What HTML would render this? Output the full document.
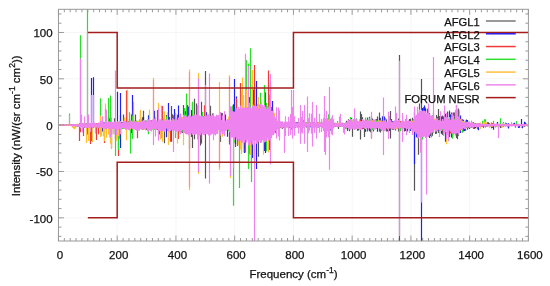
<!DOCTYPE html>
<html><head><meta charset="utf-8"><style>
html,body{margin:0;padding:0;background:#fff;}
svg{display:block;}
.t,.t text{font-family:"Liberation Sans",sans-serif;font-size:11.5px;fill:#111;stroke:#111;stroke-width:0.25px;}
</style></head><body>
<svg width="550" height="286" viewBox="0 0 550 286">
<rect width="550" height="286" fill="#fff"/>
<path d="M117.19 9.30V241.00M175.94 9.30V241.00M234.68 9.30V241.00M293.43 9.30V241.00M352.17 9.30V241.00M410.91 9.30V241.00M469.66 9.30V241.00M58.45 217.83H528.40M58.45 171.49H528.40M58.45 125.15H528.40M58.45 78.81H528.40M58.45 32.47H528.40" stroke="#f6f6f6" stroke-width="1" fill="none"/><path d="M58.45 241.00v-5.5M58.45 9.30v5.5M64.32 241.00v-3M64.32 9.30v3M70.20 241.00v-3M70.20 9.30v3M76.07 241.00v-3M76.07 9.30v3M81.95 241.00v-3M81.95 9.30v3M87.82 241.00v-3M87.82 9.30v3M93.70 241.00v-3M93.70 9.30v3M99.57 241.00v-3M99.57 9.30v3M105.44 241.00v-3M105.44 9.30v3M111.32 241.00v-3M111.32 9.30v3M117.19 241.00v-5.5M117.19 9.30v5.5M123.07 241.00v-3M123.07 9.30v3M128.94 241.00v-3M128.94 9.30v3M134.82 241.00v-3M134.82 9.30v3M140.69 241.00v-3M140.69 9.30v3M146.57 241.00v-3M146.57 9.30v3M152.44 241.00v-3M152.44 9.30v3M158.31 241.00v-3M158.31 9.30v3M164.19 241.00v-3M164.19 9.30v3M170.06 241.00v-3M170.06 9.30v3M175.94 241.00v-5.5M175.94 9.30v5.5M181.81 241.00v-3M181.81 9.30v3M187.69 241.00v-3M187.69 9.30v3M193.56 241.00v-3M193.56 9.30v3M199.44 241.00v-3M199.44 9.30v3M205.31 241.00v-3M205.31 9.30v3M211.18 241.00v-3M211.18 9.30v3M217.06 241.00v-3M217.06 9.30v3M222.93 241.00v-3M222.93 9.30v3M228.81 241.00v-3M228.81 9.30v3M234.68 241.00v-5.5M234.68 9.30v5.5M240.56 241.00v-3M240.56 9.30v3M246.43 241.00v-3M246.43 9.30v3M252.30 241.00v-3M252.30 9.30v3M258.18 241.00v-3M258.18 9.30v3M264.05 241.00v-3M264.05 9.30v3M269.93 241.00v-3M269.93 9.30v3M275.80 241.00v-3M275.80 9.30v3M281.68 241.00v-3M281.68 9.30v3M287.55 241.00v-3M287.55 9.30v3M293.43 241.00v-5.5M293.43 9.30v5.5M299.30 241.00v-3M299.30 9.30v3M305.17 241.00v-3M305.17 9.30v3M311.05 241.00v-3M311.05 9.30v3M316.92 241.00v-3M316.92 9.30v3M322.80 241.00v-3M322.80 9.30v3M328.67 241.00v-3M328.67 9.30v3M334.55 241.00v-3M334.55 9.30v3M340.42 241.00v-3M340.42 9.30v3M346.29 241.00v-3M346.29 9.30v3M352.17 241.00v-5.5M352.17 9.30v5.5M358.04 241.00v-3M358.04 9.30v3M363.92 241.00v-3M363.92 9.30v3M369.79 241.00v-3M369.79 9.30v3M375.67 241.00v-3M375.67 9.30v3M381.54 241.00v-3M381.54 9.30v3M387.41 241.00v-3M387.41 9.30v3M393.29 241.00v-3M393.29 9.30v3M399.16 241.00v-3M399.16 9.30v3M405.04 241.00v-3M405.04 9.30v3M410.91 241.00v-5.5M410.91 9.30v5.5M416.79 241.00v-3M416.79 9.30v3M422.66 241.00v-3M422.66 9.30v3M428.54 241.00v-3M428.54 9.30v3M434.41 241.00v-3M434.41 9.30v3M440.28 241.00v-3M440.28 9.30v3M446.16 241.00v-3M446.16 9.30v3M452.03 241.00v-3M452.03 9.30v3M457.91 241.00v-3M457.91 9.30v3M463.78 241.00v-3M463.78 9.30v3M469.66 241.00v-5.5M469.66 9.30v5.5M475.53 241.00v-3M475.53 9.30v3M481.40 241.00v-3M481.40 9.30v3M487.28 241.00v-3M487.28 9.30v3M493.15 241.00v-3M493.15 9.30v3M499.03 241.00v-3M499.03 9.30v3M504.90 241.00v-3M504.90 9.30v3M510.78 241.00v-3M510.78 9.30v3M516.65 241.00v-3M516.65 9.30v3M522.53 241.00v-3M522.53 9.30v3M528.40 241.00v-5.5M528.40 9.30v5.5M58.45 236.37h3M528.40 236.37h-3M58.45 227.10h3M528.40 227.10h-3M58.45 217.83h5.5M528.40 217.83h-5.5M58.45 208.56h3M528.40 208.56h-3M58.45 199.29h3M528.40 199.29h-3M58.45 190.03h3M528.40 190.03h-3M58.45 180.76h3M528.40 180.76h-3M58.45 171.49h5.5M528.40 171.49h-5.5M58.45 162.22h3M528.40 162.22h-3M58.45 152.95h3M528.40 152.95h-3M58.45 143.69h3M528.40 143.69h-3M58.45 134.42h3M528.40 134.42h-3M58.45 125.15h5.5M528.40 125.15h-5.5M58.45 115.88h3M528.40 115.88h-3M58.45 106.61h3M528.40 106.61h-3M58.45 97.35h3M528.40 97.35h-3M58.45 88.08h3M528.40 88.08h-3M58.45 78.81h5.5M528.40 78.81h-5.5M58.45 69.54h3M528.40 69.54h-3M58.45 60.27h3M528.40 60.27h-3M58.45 51.01h3M528.40 51.01h-3M58.45 41.74h3M528.40 41.74h-3M58.45 32.47h5.5M528.40 32.47h-5.5M58.45 23.20h3M528.40 23.20h-3M58.45 13.93h3M528.40 13.93h-3" stroke="#999" stroke-width="1" fill="none"/><path d="M59.5 124.8V125.5M60.5 125.0V125.6M61.5 124.9V125.4M62.5 124.6V125.7M63.5 124.6V125.7M64.5 125.0V125.4M65.5 124.9V125.7M66.5 124.8V125.6M67.5 124.9V125.7M68.5 124.3V125.9M69.5 124.9V126.1M70.5 124.5V126.0M71.5 124.5V125.5M72.5 124.3V126.2M73.5 124.3V126.0M74.5 124.4V125.8M75.5 124.5V126.3M76.5 124.6V125.5M77.5 124.7V126.0M78.5 124.2V126.6M79.5 123.6V126.3M80.5 124.1V125.8M81.5 123.7V126.1M82.5 123.8V127.2M83.5 124.1V126.9M84.5 124.4V127.5M85.5 123.9V127.2M86.5 123.9V127.2M87.5 123.7V126.8M88.5 123.8V126.1M89.5 123.6V125.9M90.5 123.9V126.4M91.5 124.1V127.0M92.5 123.8V126.1M93.5 123.2V126.4M94.5 123.3V126.6M95.5 123.8V127.2M96.5 124.3V126.1M97.5 123.8V126.6M98.5 123.8V125.8M99.5 124.2V127.5M100.5 123.4V125.9M101.5 123.4V127.0M102.5 119.6V126.7M103.5 122.5V132.5M104.5 123.2V126.0M105.5 123.8V125.9M106.5 124.3V128.3M107.5 123.0V126.3M108.5 123.0V127.2M109.5 118.2V131.7M110.5 124.2V131.8M111.5 123.3V127.5M112.5 123.2V126.8M113.5 124.1V134.0M114.5 118.3V127.0M115.5 121.7V128.9M116.5 123.3V127.2M117.5 121.8V126.9M118.5 124.0V126.3M119.5 122.7V128.5M120.5 115.1V128.2M121.5 123.0V126.6M122.5 123.9V128.1M123.5 114.5V128.4M124.5 117.7V128.9M125.5 122.6V127.8M126.5 123.7V126.6M127.5 124.2V128.8M128.5 121.4V127.1M129.5 119.0V127.2M130.5 121.4V128.3M131.5 114.6V127.1M132.5 112.9V128.1M133.5 121.3V128.2M134.5 121.5V129.0M135.5 114.4V127.4M136.5 120.9V128.2M137.5 121.8V126.9M138.5 123.6V129.5M139.5 123.0V129.5M140.5 121.6V127.4M141.5 121.9V126.9M142.5 117.2V127.8M143.5 110.7V129.7M144.5 121.2V127.4M145.5 122.8V127.8M146.5 121.8V129.8M147.5 120.5V129.5M148.5 122.1V127.1M149.5 123.2V128.8M150.5 121.2V130.0M151.5 122.5V129.0M152.5 122.2V128.5M153.5 122.8V128.6M154.5 121.7V129.0M155.5 120.8V127.1M156.5 121.9V126.5M157.5 110.1V129.7M158.5 121.3V128.6M159.5 123.6V134.5M160.5 123.7V127.4M161.5 122.9V132.4M162.5 121.1V126.7M163.5 122.9V127.9M164.5 120.1V143.2M165.5 120.7V127.6M166.5 115.1V130.3M167.5 122.5V128.3M168.5 122.0V128.2M169.5 116.9V127.8M170.5 121.9V128.3M171.5 106.1V141.8M172.5 114.2V128.3M173.5 122.6V129.6M174.5 121.9V128.4M175.5 113.7V127.3M176.5 121.0V129.7M177.5 114.8V134.4M178.5 121.8V127.7M179.5 122.5V131.5M180.5 121.4V131.1M181.5 119.3V128.3M182.5 117.4V132.9M183.5 105.0V130.1M184.5 118.4V130.6M185.5 119.2V128.1M186.5 122.5V128.3M187.5 105.1V131.2M188.5 122.2V127.6M189.5 117.6V149.0M190.5 116.8V127.3M191.5 116.9V136.9M192.5 103.0V148.0M193.5 122.3V133.6M194.5 98.8V139.2M195.5 119.6V130.8M196.5 103.4V127.4M197.5 118.0V133.6M198.5 117.6V138.5M199.5 121.1V131.3M200.5 117.6V145.5M201.5 101.7V143.5M202.5 120.7V129.2M203.5 116.6V131.1M204.5 120.2V132.5M205.5 71.0V178.6M206.5 120.0V133.4M207.5 117.4V132.7M208.5 116.9V133.3M209.5 116.3V129.7M210.5 105.7V129.6M211.5 118.1V132.2M212.5 113.4V132.3M213.5 120.2V127.5M214.5 120.3V131.1M215.5 122.9V127.9M216.5 120.8V130.3M217.5 120.5V129.9M218.5 121.7V127.7M219.5 120.0V132.2M220.5 123.3V142.1M221.5 113.0V127.8M222.5 113.2V126.5M223.5 120.8V128.2M224.5 121.2V134.5M225.5 123.3V130.1M226.5 123.4V129.6M227.5 120.1V128.1M228.5 123.5V130.2M229.5 119.6V144.4M230.5 108.6V127.6M231.5 117.4V129.8M232.5 119.7V129.6M233.5 116.0V132.5M234.5 119.5V132.1M235.5 114.5V147.1M236.5 121.2V134.0M237.5 115.4V130.5M238.5 117.2V136.0M239.5 113.6V135.2M240.5 110.8V136.1M241.5 117.0V147.7M242.5 118.9V130.3M243.5 118.8V131.3M244.5 115.7V140.0M245.5 116.1V132.0M246.5 118.3V139.0M247.5 109.2V137.3M248.5 116.9V131.0M249.5 116.8V137.9M250.5 109.4V134.4M251.5 118.1V129.1M252.5 112.6V133.2M253.5 108.7V131.6M254.5 113.2V160.0M255.5 121.0V134.6M256.5 115.2V129.7M257.5 114.6V134.3M258.5 112.1V156.8M259.5 116.6V137.8M260.5 118.7V136.6M261.5 113.7V139.4M262.5 112.2V134.4M263.5 109.1V135.4M264.5 111.9V131.2M265.5 92.3V132.8M266.5 110.3V131.0M267.5 112.6V131.6M268.5 120.6V131.0M269.5 121.0V149.9M270.5 116.2V133.5M271.5 119.3V134.4M272.5 117.9V131.1M273.5 116.4V133.5M274.5 122.8V129.3M275.5 118.5V132.8M276.5 119.3V126.8M277.5 121.2V127.8M278.5 123.4V127.6M279.5 123.4V127.3M280.5 123.7V126.9M281.5 123.2V126.5M282.5 123.5V129.0M283.5 123.8V126.6M284.5 123.5V127.9M285.5 123.6V126.8M286.5 123.7V126.0M287.5 123.4V126.6M288.5 122.4V127.0M289.5 122.2V127.8M290.5 122.0V125.9M291.5 123.0V126.9M292.5 120.8V126.2M293.5 122.5V127.1M294.5 123.6V126.2M295.5 122.7V126.1M296.5 122.4V127.0M297.5 124.3V125.8M298.5 123.1V126.1M299.5 122.6V127.0M300.5 122.4V126.8M301.5 123.2V126.4M302.5 122.4V126.8M303.5 123.8V126.2M304.5 122.7V127.3M305.5 124.1V126.4M306.5 122.4V127.5M307.5 124.4V126.3M308.5 120.4V126.3M309.5 124.1V125.8M310.5 122.5V127.0M311.5 123.2V125.9M312.5 122.8V127.5M313.5 124.3V125.9M314.5 123.3V128.4M315.5 123.0V127.1M316.5 122.3V127.1M317.5 124.2V125.8M318.5 123.9V126.9M319.5 124.1V126.7M320.5 122.8V127.0M321.5 122.1V126.8M322.5 123.2V126.8M323.5 123.0V127.1M324.5 114.2V129.5M325.5 120.2V130.2M326.5 123.4V128.5M327.5 123.0V127.0M328.5 120.1V127.3M329.5 123.3V127.3M330.5 123.5V129.0M331.5 121.1V127.7M332.5 123.1V129.5M333.5 121.8V127.0M334.5 123.7V126.8M335.5 122.7V127.0M336.5 124.5V126.9M337.5 123.9V126.4M338.5 123.0V128.9M339.5 124.0V126.3M340.5 123.7V126.5M341.5 124.0V126.1M342.5 123.0V126.6M343.5 123.5V126.6M344.5 123.8V127.2M345.5 122.9V127.3M346.5 120.7V126.1M347.5 122.8V131.0M348.5 119.3V127.0M349.5 122.9V131.3M350.5 122.7V128.1M351.5 121.7V126.3M352.5 121.3V136.7M353.5 121.3V127.8M354.5 123.9V128.8M355.5 121.3V128.0M356.5 122.5V126.1M357.5 123.9V130.8M358.5 122.3V130.6M359.5 121.9V126.9M360.5 111.5V139.5M361.5 114.1V126.9M362.5 117.2V129.2M363.5 121.2V127.8M364.5 121.9V136.9M365.5 119.0V131.9M366.5 123.3V126.3M367.5 117.6V131.5M368.5 121.3V128.7M369.5 116.7V127.0M370.5 121.9V132.2M371.5 116.2V138.4M372.5 118.6V129.0M373.5 123.6V131.4M374.5 123.4V127.1M375.5 120.8V126.8M376.5 118.9V129.0M377.5 116.5V127.4M378.5 122.2V126.3M379.5 112.6V131.5M380.5 117.8V132.5M381.5 122.9V131.0M382.5 122.5V129.7M383.5 123.3V132.1M384.5 122.6V127.7M385.5 119.1V128.1M386.5 119.5V131.4M387.5 122.3V131.5M388.5 119.4V128.9M389.5 117.7V130.7M390.5 111.1V138.5M391.5 119.0V127.5M392.5 124.1V129.8M393.5 122.6V129.8M394.5 122.6V126.9M395.5 123.4V128.9M396.5 122.7V127.2M397.5 121.5V126.9M398.5 118.5V131.5M399.5 55.0V241.0M400.5 122.2V130.9M401.5 123.9V127.6M402.5 119.7V128.5M403.5 122.7V128.4M404.5 122.4V131.6M405.5 119.5V127.3M406.5 118.2V131.4M407.5 122.0V131.4M408.5 123.5V126.2M409.5 119.0V130.7M410.5 118.8V127.3M411.5 121.7V128.4M412.5 117.8V126.2M413.5 123.3V127.7M414.5 111.7V190.7M415.5 116.6V128.1M416.5 117.5V133.2M417.5 117.6V133.2M418.5 115.4V154.8M419.5 103.4V134.7M420.5 117.8V131.3M421.5 79.0V133.9M422.5 112.0V128.7M423.5 107.3V128.9M424.5 107.1V132.3M425.5 107.8V135.8M426.5 121.8V130.1M427.5 108.7V135.1M428.5 107.7V132.2M429.5 113.0V137.6M430.5 116.6V136.0M431.5 117.7V137.3M432.5 121.5V135.7M433.5 112.4V130.8M434.5 120.0V129.9M435.5 119.3V134.1M436.5 115.1V133.7M437.5 116.7V130.6M438.5 109.0V133.0M439.5 116.0V129.6M440.5 116.3V129.9M441.5 121.4V133.1M442.5 115.5V135.0M443.5 116.6V135.4M444.5 121.9V126.8M445.5 121.5V130.9M446.5 118.6V131.1M447.5 111.5V133.1M448.5 122.8V137.7M449.5 110.5V136.9M450.5 114.7V128.6M451.5 112.6V128.7M452.5 119.8V138.3M453.5 112.4V129.6M454.5 112.4V132.4M455.5 115.4V130.4M456.5 105.0V137.9M457.5 120.8V139.2M458.5 108.6V135.8M459.5 122.3V129.5M460.5 122.3V128.1M461.5 123.2V127.5M462.5 122.2V132.6M463.5 121.2V131.4M464.5 124.0V131.0M465.5 123.3V130.8M466.5 119.6V126.0M467.5 121.2V129.7M468.5 124.0V126.3M469.5 123.6V129.0M470.5 122.9V126.0M471.5 124.6V126.4M472.5 122.8V127.0M473.5 122.9V127.1M474.5 123.0V128.9M475.5 124.1V125.7M476.5 124.0V126.6M477.5 123.8V129.3M478.5 124.2V126.8M479.5 124.2V126.2M480.5 124.3V126.2M481.5 124.6V126.7M482.5 123.9V126.3M483.5 124.4V126.4M484.5 124.1V126.0M485.5 123.8V126.3M486.5 124.7V125.8M487.5 124.3V126.4M488.5 122.2V125.8M489.5 124.7V125.6M490.5 124.7V125.6M491.5 123.9V128.3M492.5 124.0V128.1M493.5 123.9V126.3M494.5 124.6V126.1M495.5 124.3V126.2M496.5 124.0V126.2M497.5 122.0V126.0M498.5 124.1V126.4M499.5 124.0V125.5M500.5 124.8V128.1M501.5 124.6V126.4M502.5 124.2V126.1M503.5 124.4V126.4M504.5 124.3V125.6M505.5 124.6V126.0M506.5 124.3V125.7M507.5 124.5V125.8M508.5 124.3V125.9M509.5 124.0V126.2M510.5 124.1V125.9M511.5 124.6V125.9M512.5 124.1V125.5M513.5 123.3V126.1M514.5 124.0V125.7M515.5 124.5V125.9M516.5 124.9V125.6M517.5 124.7V125.9M518.5 124.7V126.1M519.5 124.8V125.8M520.5 124.2V126.0M521.5 124.5V125.7M522.5 124.5V126.9M523.5 124.6V126.2M524.5 123.6V126.7M525.5 124.6V125.6M526.5 124.5V125.8M527.5 124.7V126.2" stroke="#555555" stroke-width="1.2" fill="none"/>
<path d="M59.5 124.7V125.5M60.5 124.7V125.3M61.5 125.0V125.5M62.5 124.7V125.6M63.5 125.0V125.4M64.5 124.6V125.6M65.5 124.9V125.6M66.5 124.5V125.7M67.5 124.8V125.8M68.5 124.8V125.5M69.5 124.8V125.9M70.5 124.5V125.6M71.5 124.6V126.1M72.5 124.9V125.9M73.5 124.2V126.2M74.5 124.4V126.0M75.5 124.8V126.2M76.5 124.6V126.2M77.5 124.1V126.5M78.5 124.6V125.7M79.5 124.7V125.7M80.5 123.5V126.2M81.5 124.0V126.1M82.5 124.1V127.3M83.5 123.4V127.3M84.5 123.2V127.7M85.5 124.0V125.8M86.5 123.4V127.1M87.5 123.4V126.8M88.5 123.9V126.7M89.5 123.8V126.6M90.5 124.4V127.0M91.5 78.0V127.2M92.5 124.3V127.0M93.5 77.3V127.5M94.5 123.4V126.0M95.5 123.8V127.1M96.5 123.3V127.7M97.5 123.6V125.8M98.5 123.1V127.3M99.5 123.4V127.3M100.5 124.0V126.7M101.5 121.2V126.6M102.5 124.5V131.6M103.5 122.9V126.0M104.5 122.5V133.2M105.5 123.9V126.0M106.5 123.5V127.2M107.5 122.9V127.2M108.5 115.8V127.5M109.5 122.6V131.4M110.5 123.6V127.3M111.5 123.8V127.1M112.5 122.2V127.2M113.5 124.1V133.6M114.5 122.3V128.2M115.5 121.8V138.8M116.5 123.2V127.3M117.5 91.7V127.7M118.5 122.1V128.8M119.5 123.1V127.1M120.5 93.0V148.0M121.5 122.0V129.2M122.5 121.9V126.7M123.5 122.4V126.8M124.5 121.4V127.2M125.5 123.3V129.3M126.5 123.2V127.0M127.5 121.5V128.8M128.5 121.6V127.5M129.5 123.9V127.1M130.5 124.1V127.4M131.5 122.9V133.3M132.5 95.0V127.3M133.5 123.8V127.0M134.5 122.8V127.3M135.5 122.9V128.5M136.5 122.8V128.0M137.5 123.8V127.1M138.5 122.1V128.3M139.5 123.2V128.3M140.5 121.6V129.0M141.5 122.1V127.2M142.5 121.7V128.8M143.5 116.8V128.3M144.5 121.8V126.6M145.5 123.1V126.6M146.5 123.6V129.3M147.5 122.4V127.7M148.5 115.2V129.9M149.5 123.2V129.8M150.5 122.2V126.7M151.5 120.5V128.7M152.5 121.8V126.5M153.5 123.2V130.0M154.5 110.8V129.0M155.5 121.4V127.3M156.5 121.5V129.3M157.5 123.6V130.1M158.5 122.8V128.8M159.5 122.4V127.3M160.5 120.2V127.0M161.5 121.5V127.5M162.5 122.4V129.4M163.5 123.1V128.8M164.5 122.2V126.8M165.5 122.3V127.1M166.5 122.4V137.3M167.5 121.4V127.1M168.5 103.0V127.5M169.5 120.8V130.6M170.5 123.5V128.2M171.5 122.3V128.4M172.5 123.5V128.8M173.5 122.9V128.7M174.5 109.0V130.3M175.5 116.9V127.6M176.5 120.9V130.7M177.5 122.8V129.8M178.5 105.4V127.4M179.5 118.6V127.1M180.5 113.9V131.5M181.5 122.2V127.0M182.5 122.9V131.3M183.5 120.7V129.0M184.5 108.5V128.1M185.5 111.3V128.9M186.5 119.8V133.6M187.5 121.2V133.3M188.5 106.6V132.0M189.5 120.3V132.4M190.5 119.1V128.6M191.5 109.9V129.3M192.5 123.0V130.4M193.5 120.1V133.4M194.5 116.3V128.1M195.5 122.3V132.6M196.5 118.8V130.1M197.5 120.3V132.8M198.5 116.3V127.6M199.5 122.5V130.8M200.5 120.6V127.8M201.5 122.6V133.6M202.5 118.8V129.0M203.5 120.6V128.4M204.5 120.3V130.1M205.5 118.4V130.1M206.5 112.3V131.7M207.5 119.0V130.7M208.5 122.9V131.3M209.5 117.4V131.4M210.5 122.1V129.7M211.5 122.2V130.2M212.5 121.0V130.4M213.5 121.6V130.1M214.5 117.2V133.4M215.5 121.0V133.4M216.5 118.6V132.9M217.5 119.8V129.5M218.5 120.8V129.0M219.5 121.3V130.2M220.5 115.1V128.0M221.5 122.5V129.9M222.5 120.3V129.3M223.5 120.9V127.9M224.5 123.4V126.9M225.5 114.5V126.6M226.5 123.1V129.0M227.5 121.2V136.7M228.5 122.1V129.8M229.5 122.0V131.0M230.5 118.1V128.3M231.5 115.3V132.3M232.5 121.2V131.5M233.5 104.2V132.5M234.5 79.0V134.6M235.5 111.8V143.9M236.5 96.6V135.1M237.5 112.9V132.8M238.5 109.7V139.0M239.5 109.6V145.2M240.5 114.7V134.9M241.5 93.4V137.1M242.5 117.9V134.0M243.5 117.3V132.4M244.5 116.3V153.0M245.5 113.3V137.3M246.5 108.3V139.6M247.5 108.3V134.1M248.5 119.3V135.1M249.5 96.9V134.9M250.5 118.4V153.8M251.5 118.0V138.4M252.5 114.6V158.1M253.5 89.4V138.9M254.5 108.3V132.1M255.5 117.4V135.5M256.5 81.0V169.0M257.5 117.2V138.5M258.5 111.7V138.1M259.5 113.1V139.2M260.5 111.2V140.0M261.5 112.8V134.3M262.5 117.1V131.7M263.5 108.9V137.1M264.5 118.8V151.1M265.5 118.4V152.9M266.5 114.7V138.8M267.5 112.1V135.0M268.5 113.2V132.6M269.5 120.0V128.7M270.5 83.0V137.2M271.5 114.6V131.5M272.5 100.9V130.9M273.5 117.0V131.7M274.5 117.5V128.4M275.5 121.1V129.4M276.5 120.2V127.5M277.5 123.2V128.2M278.5 124.2V126.5M279.5 124.0V126.5M280.5 122.6V125.9M281.5 123.2V127.6M282.5 123.3V127.6M283.5 123.8V127.4M284.5 122.9V127.6M285.5 123.7V127.0M286.5 122.3V126.8M287.5 123.1V126.7M288.5 123.7V126.2M289.5 122.1V127.5M290.5 122.0V125.8M291.5 124.0V126.7M292.5 122.8V126.2M293.5 122.6V125.9M294.5 122.4V126.1M295.5 123.2V127.5M296.5 122.1V127.0M297.5 122.1V126.4M298.5 124.0V127.0M299.5 124.3V127.2M300.5 122.3V125.8M301.5 124.1V126.7M302.5 123.5V126.7M303.5 122.7V127.1M304.5 123.6V126.8M305.5 123.1V125.9M306.5 123.8V126.4M307.5 123.8V127.5M308.5 123.5V126.3M309.5 123.5V126.0M310.5 123.1V127.3M311.5 123.0V127.2M312.5 123.8V127.1M313.5 123.0V127.0M314.5 123.3V126.4M315.5 123.4V126.2M316.5 124.3V126.9M317.5 122.9V126.6M318.5 124.3V127.4M319.5 122.2V127.3M320.5 123.3V125.9M321.5 124.1V127.0M322.5 123.3V127.3M323.5 123.6V128.7M324.5 122.6V130.0M325.5 121.9V127.4M326.5 121.7V131.0M327.5 121.4V127.3M328.5 120.8V128.4M329.5 118.6V128.0M330.5 123.1V130.6M331.5 120.0V127.0M332.5 119.5V127.0M333.5 123.9V126.7M334.5 123.2V126.2M335.5 124.5V126.2M336.5 124.1V126.8M337.5 123.0V126.1M338.5 124.0V126.4M339.5 122.7V126.6M340.5 123.8V126.6M341.5 124.3V125.7M342.5 123.6V126.2M343.5 123.5V127.0M344.5 124.2V126.6M345.5 122.8V128.4M346.5 122.0V127.9M347.5 121.2V129.4M348.5 124.0V126.3M349.5 120.2V129.1M350.5 123.4V129.1M351.5 118.0V128.7M352.5 121.2V127.3M353.5 123.5V126.1M354.5 121.6V128.4M355.5 120.8V129.1M356.5 118.7V128.1M357.5 122.6V129.2M358.5 122.6V129.2M359.5 121.9V126.3M360.5 121.0V130.0M361.5 120.1V127.3M362.5 120.5V129.0M363.5 123.9V128.6M364.5 121.3V126.5M365.5 122.6V131.0M366.5 121.6V128.1M367.5 122.7V128.7M368.5 121.1V126.9M369.5 118.4V131.3M370.5 122.2V128.6M371.5 118.9V126.8M372.5 120.6V128.9M373.5 121.6V127.6M374.5 123.4V127.6M375.5 122.6V126.3M376.5 122.9V128.0M377.5 120.8V131.8M378.5 123.5V126.4M379.5 118.2V128.1M380.5 120.3V126.8M381.5 120.2V128.7M382.5 116.3V127.2M383.5 117.5V127.7M384.5 116.6V127.2M385.5 118.4V128.2M386.5 122.2V127.7M387.5 121.9V130.7M388.5 122.1V127.7M389.5 118.8V130.7M390.5 122.1V127.7M391.5 123.0V126.5M392.5 121.2V127.4M393.5 121.6V127.8M394.5 123.6V126.7M395.5 122.4V130.6M396.5 122.3V127.6M397.5 124.1V126.6M398.5 121.4V127.8M399.5 121.5V126.8M400.5 120.9V130.4M401.5 123.5V126.8M402.5 121.6V126.8M403.5 121.1V127.4M404.5 122.9V128.3M405.5 121.9V131.1M406.5 122.1V126.4M407.5 121.7V130.4M408.5 123.5V127.6M409.5 121.5V128.3M410.5 123.4V130.9M411.5 121.8V128.9M412.5 122.9V130.5M413.5 119.0V129.3M414.5 122.4V164.3M415.5 120.8V130.4M416.5 118.1V137.3M417.5 118.7V137.5M418.5 114.9V129.1M419.5 117.3V137.1M420.5 115.0V128.2M421.5 117.4V241.0M422.5 108.1V134.6M423.5 121.7V132.6M424.5 105.4V131.1M425.5 109.2V136.3M426.5 121.2V134.0M427.5 114.5V131.8M428.5 120.8V131.0M429.5 116.7V138.0M430.5 117.8V127.7M431.5 122.8V136.1M432.5 115.2V127.1M433.5 119.0V128.5M434.5 123.0V128.5M435.5 120.0V127.6M436.5 123.3V130.2M437.5 121.6V128.3M438.5 120.9V130.5M439.5 121.2V127.8M440.5 122.8V126.5M441.5 116.4V133.8M442.5 120.2V130.1M443.5 120.3V128.6M444.5 111.0V128.8M445.5 113.8V141.7M446.5 119.9V128.2M447.5 121.9V131.0M448.5 121.1V133.2M449.5 112.1V129.2M450.5 114.6V127.6M451.5 114.7V137.4M452.5 121.8V127.7M453.5 121.0V129.2M454.5 121.1V132.0M455.5 118.3V131.0M456.5 117.4V129.1M457.5 120.4V127.9M458.5 120.8V132.1M459.5 118.8V130.8M460.5 115.5V133.1M461.5 121.5V127.8M462.5 119.2V129.4M463.5 119.8V127.6M464.5 123.0V131.0M465.5 122.6V127.7M466.5 119.9V126.3M467.5 120.0V127.0M468.5 123.5V127.7M469.5 121.8V128.7M470.5 124.2V126.3M471.5 124.3V127.4M472.5 123.3V126.3M473.5 124.2V127.4M474.5 123.3V126.6M475.5 124.0V128.2M476.5 124.5V126.2M477.5 123.4V127.0M478.5 123.5V130.2M479.5 123.6V125.7M480.5 123.7V126.9M481.5 124.3V125.9M482.5 124.2V126.2M483.5 124.7V127.8M484.5 124.8V126.1M485.5 122.8V126.5M486.5 124.6V126.2M487.5 124.6V125.9M488.5 123.7V126.1M489.5 124.3V126.5M490.5 124.5V126.0M491.5 124.7V126.2M492.5 124.1V125.9M493.5 124.6V129.7M494.5 124.0V126.1M495.5 124.0V126.0M496.5 124.7V125.6M497.5 122.1V125.9M498.5 124.5V126.1M499.5 124.8V125.8M500.5 124.4V125.9M501.5 124.5V126.3M502.5 124.7V126.0M503.5 124.1V126.3M504.5 124.7V126.1M505.5 124.4V126.2M506.5 123.3V126.0M507.5 124.2V126.0M508.5 123.2V128.4M509.5 124.7V126.3M510.5 124.5V126.1M511.5 124.1V126.0M512.5 124.1V125.6M513.5 124.2V126.1M514.5 122.8V125.8M515.5 124.7V127.6M516.5 124.0V125.7M517.5 124.4V125.9M518.5 124.6V128.1M519.5 124.3V127.7M520.5 124.5V126.0M521.5 119.0V125.7M522.5 124.3V128.2M523.5 124.6V125.4M524.5 121.8V125.6M525.5 122.5V126.0M526.5 124.6V125.8M527.5 124.4V125.4" stroke="#2020f0" stroke-width="1.2" fill="none"/>
<path d="M59.5 124.8V125.5M60.5 124.6V125.7M61.5 124.8V125.6M62.5 124.9V125.4M63.5 124.6V125.5M64.5 125.0V125.4M65.5 124.9V125.5M66.5 124.9V125.9M67.5 124.7V125.7M68.5 124.4V126.0M69.5 124.7V126.0M70.5 124.2V125.5M71.5 124.2V125.9M72.5 124.5V126.0M73.5 124.6V126.0M74.5 124.8V126.0M75.5 124.9V126.0M76.5 124.7V125.6M77.5 124.0V125.9M78.5 124.4V125.8M79.5 123.7V141.0M80.5 124.5V132.2M81.5 124.7V126.7M82.5 123.4V125.9M83.5 123.3V136.0M84.5 123.9V127.3M85.5 123.5V125.9M86.5 123.3V126.7M87.5 124.2V134.4M88.5 123.7V140.5M89.5 123.2V127.6M90.5 123.2V144.0M91.5 124.5V140.9M92.5 123.6V126.8M93.5 124.3V127.7M94.5 124.0V127.1M95.5 124.3V125.9M96.5 123.1V140.0M97.5 123.5V127.4M98.5 123.5V134.2M99.5 123.3V126.5M100.5 124.6V126.5M101.5 122.8V127.1M102.5 123.8V126.0M103.5 123.3V127.6M104.5 123.4V143.0M105.5 124.1V127.8M106.5 122.2V126.6M107.5 123.9V126.1M108.5 121.9V128.7M109.5 122.9V127.9M110.5 122.7V126.4M111.5 122.4V148.5M112.5 122.6V129.0M113.5 122.8V127.5M114.5 123.5V126.5M115.5 122.1V135.1M116.5 123.7V127.8M117.5 122.7V135.7M118.5 124.0V156.0M119.5 121.4V128.2M120.5 121.8V133.6M121.5 123.1V126.6M122.5 124.0V127.5M123.5 123.7V127.0M124.5 122.5V129.1M125.5 122.2V126.9M126.5 90.6V127.8M127.5 123.9V127.0M128.5 121.2V126.4M129.5 122.6V128.5M130.5 121.8V126.9M131.5 123.1V127.3M132.5 121.3V126.5M133.5 123.6V126.6M134.5 122.7V126.3M135.5 123.7V127.5M136.5 123.6V128.7M137.5 122.0V138.3M138.5 122.0V127.2M139.5 121.0V126.9M140.5 111.1V128.4M141.5 121.9V127.5M142.5 121.2V129.1M143.5 122.4V129.7M144.5 123.5V128.0M145.5 120.5V130.0M146.5 123.5V128.4M147.5 121.7V126.5M148.5 120.5V127.1M149.5 123.8V126.8M150.5 123.1V127.6M151.5 123.0V127.5M152.5 121.6V127.5M153.5 120.0V126.5M154.5 120.8V128.5M155.5 122.1V129.5M156.5 121.6V130.0M157.5 121.6V128.6M158.5 123.5V133.3M159.5 119.8V126.6M160.5 122.2V127.7M161.5 121.9V130.4M162.5 106.0V128.9M163.5 123.1V127.3M164.5 120.9V128.0M165.5 119.8V128.0M166.5 121.6V126.7M167.5 120.7V127.6M168.5 122.5V128.0M169.5 122.8V129.5M170.5 122.3V141.8M171.5 123.1V129.1M172.5 121.1V128.6M173.5 115.2V130.8M174.5 119.8V128.3M175.5 120.5V127.7M176.5 118.9V128.3M177.5 121.1V129.5M178.5 123.2V139.1M179.5 122.0V129.6M180.5 120.1V129.2M181.5 119.8V132.4M182.5 122.5V127.3M183.5 118.0V132.3M184.5 121.9V127.8M185.5 121.5V130.3M186.5 121.7V132.8M187.5 117.1V133.6M188.5 120.9V130.5M189.5 117.4V132.1M190.5 120.4V129.6M191.5 118.0V128.5M192.5 120.3V129.2M193.5 121.6V129.8M194.5 118.7V129.6M195.5 118.3V130.1M196.5 119.0V131.0M197.5 112.8V133.6M198.5 117.1V131.8M199.5 117.7V130.3M200.5 122.8V129.4M201.5 121.6V138.9M202.5 118.9V131.7M203.5 116.3V131.6M204.5 105.2V133.3M205.5 116.7V129.7M206.5 118.5V128.7M207.5 122.4V133.0M208.5 119.8V129.5M209.5 118.3V133.6M210.5 118.0V127.7M211.5 122.9V132.7M212.5 122.2V130.8M213.5 119.2V130.1M214.5 120.2V127.2M215.5 118.7V132.7M216.5 116.6V130.8M217.5 120.1V130.1M218.5 120.0V128.5M219.5 121.3V128.5M220.5 119.6V128.7M221.5 120.5V129.2M222.5 121.7V126.4M223.5 122.1V128.1M224.5 122.6V130.3M225.5 122.1V128.0M226.5 123.0V127.9M227.5 119.5V127.9M228.5 121.8V129.3M229.5 123.4V130.2M230.5 121.9V130.2M231.5 120.5V133.3M232.5 119.9V129.9M233.5 115.5V135.8M234.5 112.0V132.6M235.5 115.5V129.2M236.5 98.2V136.1M237.5 115.6V145.9M238.5 109.6V138.4M239.5 114.8V138.9M240.5 83.0V137.4M241.5 117.9V135.1M242.5 111.1V132.3M243.5 101.9V136.3M244.5 109.2V140.0M245.5 114.8V152.4M246.5 116.5V139.6M247.5 116.1V130.2M248.5 113.7V135.5M249.5 118.8V132.8M250.5 107.6V129.1M251.5 114.2V136.6M252.5 116.7V133.0M253.5 109.1V130.7M254.5 65.0V136.9M255.5 112.6V134.2M256.5 110.0V138.1M257.5 114.4V132.7M258.5 110.5V130.7M259.5 108.9V136.1M260.5 113.0V130.1M261.5 116.1V132.7M262.5 118.8V135.9M263.5 117.0V131.6M264.5 118.2V132.1M265.5 109.4V129.7M266.5 114.9V130.3M267.5 112.9V133.0M268.5 70.5V143.0M269.5 103.7V128.3M270.5 120.3V130.9M271.5 107.1V131.4M272.5 118.6V134.3M273.5 118.9V131.6M274.5 118.6V128.2M275.5 119.2V130.2M276.5 120.4V129.9M277.5 122.8V126.4M278.5 122.6V127.4M279.5 122.1V127.9M280.5 122.3V127.7M281.5 122.9V127.2M282.5 122.0V127.3M283.5 124.3V127.3M284.5 124.2V126.0M285.5 123.5V126.6M286.5 123.1V126.4M287.5 123.1V126.9M288.5 122.3V127.5M289.5 124.2V126.3M290.5 124.0V126.5M291.5 122.2V127.1M292.5 124.2V127.2M293.5 124.3V127.3M294.5 122.9V126.9M295.5 123.9V126.3M296.5 122.9V126.4M297.5 123.7V126.0M298.5 124.2V127.3M299.5 124.1V126.0M300.5 124.2V126.2M301.5 123.2V126.4M302.5 122.2V126.0M303.5 122.8V127.4M304.5 122.2V127.3M305.5 122.6V125.8M306.5 122.8V126.1M307.5 122.9V125.8M308.5 122.7V126.6M309.5 122.7V126.8M310.5 123.6V125.9M311.5 123.6V125.9M312.5 122.9V126.6M313.5 122.1V127.2M314.5 122.1V125.8M315.5 123.6V127.3M316.5 123.9V126.5M317.5 122.3V127.1M318.5 122.2V126.8M319.5 123.8V126.7M320.5 124.2V126.0M321.5 123.0V126.8M322.5 123.3V126.7M323.5 120.5V127.1M324.5 122.0V128.3M325.5 122.9V126.9M326.5 121.7V130.7M327.5 118.4V129.2M328.5 120.9V129.8M329.5 121.3V128.7M330.5 123.2V127.8M331.5 122.8V127.4M332.5 120.5V129.4M333.5 123.6V127.4M334.5 123.4V125.9M335.5 123.8V126.2M336.5 123.0V125.8M337.5 123.0V127.1M338.5 122.9V126.8M339.5 123.0V125.8M340.5 124.0V125.7M341.5 123.6V125.7M342.5 123.1V126.5M343.5 122.9V125.7M344.5 124.3V126.9M345.5 124.3V127.0M346.5 124.0V126.8M347.5 121.3V128.1M348.5 123.3V128.2M349.5 121.2V127.6M350.5 123.1V126.8M351.5 120.7V126.2M352.5 121.5V126.3M353.5 122.4V126.9M354.5 121.6V127.2M355.5 120.8V129.2M356.5 120.1V128.0M357.5 122.4V127.0M358.5 123.2V127.8M359.5 122.6V127.0M360.5 120.1V128.5M361.5 123.7V128.2M362.5 123.0V128.7M363.5 123.7V128.9M364.5 121.1V128.3M365.5 122.5V126.7M366.5 120.2V127.0M367.5 121.9V126.4M368.5 123.3V129.1M369.5 122.6V126.4M370.5 122.9V128.7M371.5 123.2V127.6M372.5 122.4V129.2M373.5 123.5V128.1M374.5 123.8V128.8M375.5 121.0V127.6M376.5 123.7V128.2M377.5 120.6V127.5M378.5 122.3V126.5M379.5 123.8V126.7M380.5 123.1V126.2M381.5 122.8V128.3M382.5 121.2V127.4M383.5 120.0V129.5M384.5 121.3V129.6M385.5 121.3V128.2M386.5 123.4V128.8M387.5 122.0V127.6M388.5 121.7V126.9M389.5 122.9V126.3M390.5 122.0V127.7M391.5 121.3V126.6M392.5 122.1V127.4M393.5 123.1V128.8M394.5 122.7V127.3M395.5 123.3V128.1M396.5 122.4V127.7M397.5 122.5V128.5M398.5 121.2V128.0M399.5 122.2V126.3M400.5 120.9V127.4M401.5 121.7V127.4M402.5 121.6V126.4M403.5 121.7V127.5M404.5 124.1V127.5M405.5 121.6V127.7M406.5 123.4V126.4M407.5 123.4V128.3M408.5 122.2V127.4M409.5 121.9V127.7M410.5 121.9V128.6M411.5 122.7V127.4M412.5 120.3V126.6M413.5 119.5V130.0M414.5 122.9V129.7M415.5 118.6V132.8M416.5 118.8V130.5M417.5 116.9V132.6M418.5 118.3V131.0M419.5 112.5V134.6M420.5 113.5V128.8M421.5 117.0V130.6M422.5 116.7V134.3M423.5 114.2V129.4M424.5 121.8V135.1M425.5 116.7V134.1M426.5 117.7V130.0M427.5 114.0V131.8M428.5 119.0V131.3M429.5 119.7V130.0M430.5 118.1V133.2M431.5 117.4V131.0M432.5 119.1V130.7M433.5 122.9V130.7M434.5 119.4V127.3M435.5 119.7V126.6M436.5 119.1V130.5M437.5 120.9V129.8M438.5 121.2V129.5M439.5 123.5V129.8M440.5 121.7V126.7M441.5 121.6V128.0M442.5 121.2V130.6M443.5 119.0V130.6M444.5 119.3V129.2M445.5 122.9V131.5M446.5 122.4V127.6M447.5 119.6V129.7M448.5 119.4V128.4M449.5 118.9V127.5M450.5 120.4V133.4M451.5 117.9V132.4M452.5 122.9V130.9M453.5 122.8V128.7M454.5 118.4V129.4M455.5 117.6V131.9M456.5 122.1V130.4M457.5 119.0V133.5M458.5 119.4V132.0M459.5 120.4V131.8M460.5 119.1V127.1M461.5 123.3V126.8M462.5 121.3V128.9M463.5 121.7V127.9M464.5 123.7V126.3M465.5 121.7V128.7M466.5 123.7V127.3M467.5 123.1V127.5M468.5 123.5V127.6M469.5 124.1V127.0M470.5 123.6V127.3M471.5 124.2V126.3M472.5 122.8V127.5M473.5 122.0V129.0M474.5 123.8V126.6M475.5 123.1V127.0M476.5 123.8V126.8M477.5 124.5V128.6M478.5 124.6V126.4M479.5 123.7V126.6M480.5 123.5V126.7M481.5 124.6V126.2M482.5 124.3V126.7M483.5 123.9V125.9M484.5 123.8V125.8M485.5 123.9V127.6M486.5 124.1V126.2M487.5 122.1V125.8M488.5 124.1V126.0M489.5 123.0V126.2M490.5 124.6V125.6M491.5 122.6V126.5M492.5 123.1V126.4M493.5 123.9V125.5M494.5 123.9V125.6M495.5 124.1V126.3M496.5 124.2V126.1M497.5 124.4V125.7M498.5 124.4V125.5M499.5 124.5V126.3M500.5 124.3V126.1M501.5 123.9V127.4M502.5 124.4V126.1M503.5 124.4V125.6M504.5 124.4V125.8M505.5 123.9V126.1M506.5 123.9V125.5M507.5 124.6V126.3M508.5 124.5V126.2M509.5 124.2V125.8M510.5 124.3V125.5M511.5 124.3V126.1M512.5 124.8V126.0M513.5 124.1V125.8M514.5 124.0V125.6M515.5 124.8V126.0M516.5 124.9V125.6M517.5 124.2V125.8M518.5 124.4V125.5M519.5 124.1V125.8M520.5 124.5V125.5M521.5 124.4V127.5M522.5 124.7V125.6M523.5 124.8V125.6M524.5 124.2V125.9M525.5 124.4V125.5M526.5 124.2V125.9M527.5 124.5V125.7" stroke="#f03a3a" stroke-width="1.2" fill="none"/>
<path d="M59.5 125.0V125.5M60.5 124.8V125.5M61.5 124.8V125.6M62.5 124.9V125.3M63.5 124.6V125.5M64.5 125.0V125.3M65.5 124.9V125.4M66.5 124.8V125.5M67.5 124.3V125.7M68.5 124.8V126.0M69.5 113.5V125.6M70.5 124.9V125.6M71.5 124.4V125.8M72.5 124.7V126.2M73.5 124.2V126.2M74.5 124.0V126.2M75.5 124.5V125.7M76.5 124.1V126.1M77.5 124.3V125.8M78.5 124.6V126.0M79.5 123.9V126.5M80.5 35.2V126.6M81.5 123.7V126.1M82.5 123.3V127.2M83.5 123.7V126.1M84.5 124.2V127.5M85.5 123.5V126.1M86.5 123.2V125.9M87.5 9.3V127.5M88.5 123.2V126.8M89.5 124.3V126.7M90.5 123.4V125.8M91.5 124.3V126.1M92.5 123.3V126.9M93.5 123.2V126.0M94.5 124.6V126.1M95.5 124.5V125.8M96.5 124.5V127.6M97.5 124.3V126.6M98.5 123.6V126.5M99.5 123.1V127.5M100.5 98.2V132.7M101.5 123.3V127.4M102.5 124.1V127.8M103.5 124.4V128.0M104.5 123.7V130.2M105.5 119.8V128.1M106.5 123.3V128.4M107.5 123.2V126.3M108.5 98.0V126.7M109.5 122.4V126.6M110.5 95.5V126.3M111.5 124.1V126.4M112.5 123.5V127.7M113.5 122.5V127.0M114.5 123.3V128.2M115.5 123.4V156.0M116.5 122.0V127.7M117.5 121.5V128.1M118.5 123.9V150.0M119.5 122.8V139.1M120.5 121.4V128.1M121.5 123.6V127.4M122.5 122.5V129.0M123.5 123.7V128.5M124.5 122.7V126.8M125.5 124.2V127.6M126.5 122.2V129.3M127.5 121.9V126.4M128.5 121.5V126.8M129.5 112.3V128.4M130.5 122.3V153.5M131.5 122.8V128.4M132.5 115.5V138.9M133.5 122.7V126.4M134.5 122.7V128.6M135.5 122.3V129.0M136.5 120.6V128.0M137.5 122.9V129.5M138.5 120.8V129.8M139.5 122.1V126.5M140.5 121.1V126.3M141.5 121.7V126.4M142.5 122.2V130.0M143.5 122.8V126.5M144.5 122.1V127.8M145.5 121.5V129.6M146.5 120.4V126.3M147.5 123.9V129.8M148.5 120.7V134.2M149.5 112.6V127.6M150.5 121.2V127.1M151.5 120.3V129.0M152.5 122.9V129.6M153.5 122.1V129.4M154.5 121.9V129.8M155.5 120.7V129.6M156.5 123.2V127.0M157.5 120.6V127.4M158.5 123.2V127.5M159.5 121.8V129.6M160.5 122.1V126.8M161.5 122.3V127.9M162.5 120.1V128.4M163.5 122.9V128.4M164.5 122.7V126.5M165.5 120.5V129.6M166.5 116.6V127.5M167.5 120.7V129.4M168.5 122.9V126.7M169.5 120.9V130.7M170.5 122.5V127.2M171.5 120.7V129.0M172.5 122.3V127.7M173.5 122.1V129.1M174.5 119.6V126.7M175.5 123.7V138.0M176.5 121.9V130.9M177.5 121.7V128.1M178.5 123.0V130.4M179.5 119.0V128.9M180.5 119.3V130.4M181.5 117.4V127.7M182.5 121.4V131.4M183.5 121.3V129.5M184.5 108.3V128.7M185.5 120.6V128.8M186.5 93.5V129.8M187.5 120.0V132.6M188.5 123.0V128.5M189.5 116.3V127.8M190.5 118.6V132.4M191.5 118.0V130.7M192.5 101.8V133.3M193.5 118.2V128.3M194.5 118.7V128.5M195.5 118.5V129.9M196.5 116.7V128.1M197.5 119.7V128.7M198.5 121.3V132.4M199.5 121.4V132.3M200.5 117.1V132.6M201.5 117.1V131.9M202.5 111.9V128.0M203.5 118.0V129.5M204.5 120.7V131.7M205.5 118.0V131.1M206.5 120.2V128.0M207.5 122.4V129.5M208.5 119.9V129.2M209.5 122.6V130.2M210.5 121.9V131.4M211.5 116.6V133.0M212.5 122.2V127.7M213.5 117.2V127.8M214.5 122.0V132.5M215.5 122.7V129.9M216.5 119.6V133.0M217.5 122.7V132.6M218.5 118.3V130.1M219.5 119.9V130.1M220.5 119.3V128.6M221.5 123.6V129.7M222.5 121.0V128.0M223.5 123.4V127.7M224.5 121.6V130.2M225.5 121.0V130.3M226.5 123.1V128.0M227.5 120.7V127.5M228.5 121.3V130.9M229.5 120.6V129.5M230.5 119.2V127.7M231.5 117.1V129.1M232.5 105.5V131.7M233.5 114.3V205.7M234.5 115.9V142.6M235.5 110.8V131.1M236.5 115.6V129.0M237.5 115.5V134.2M238.5 110.7V138.5M239.5 120.9V188.0M240.5 121.3V129.3M241.5 97.6V132.3M242.5 118.1V135.9M243.5 110.9V134.7M244.5 116.1V130.2M245.5 120.9V134.5M246.5 60.0V137.1M247.5 117.4V139.8M248.5 63.5V169.0M249.5 113.2V154.5M250.5 48.2V133.6M251.5 114.7V182.0M252.5 109.0V135.7M253.5 114.2V140.4M254.5 116.4V135.4M255.5 119.8V134.6M256.5 117.7V139.3M257.5 118.5V131.2M258.5 110.3V132.2M259.5 120.3V136.4M260.5 92.7V129.3M261.5 120.8V130.5M262.5 112.3V139.2M263.5 114.6V134.0M264.5 85.0V129.1M265.5 115.9V135.7M266.5 103.1V151.2M267.5 116.2V129.4M268.5 114.6V135.7M269.5 94.8V132.0M270.5 119.2V136.1M271.5 117.2V130.4M272.5 112.9V133.4M273.5 120.6V132.3M274.5 120.1V132.6M275.5 119.0V129.3M276.5 122.5V128.4M277.5 122.2V127.3M278.5 122.2V126.7M279.5 123.7V126.2M280.5 123.8V127.4M281.5 121.8V126.3M282.5 123.9V126.6M283.5 124.2V127.6M284.5 124.3V127.3M285.5 123.8V126.4M286.5 122.2V127.4M287.5 122.4V127.6M288.5 122.7V127.2M289.5 122.0V126.9M290.5 122.8V126.0M291.5 123.9V129.7M292.5 123.6V127.6M293.5 124.1V126.1M294.5 122.2V125.8M295.5 122.2V127.0M296.5 122.7V126.6M297.5 123.0V127.4M298.5 124.4V126.1M299.5 124.3V125.8M300.5 124.0V125.9M301.5 123.3V125.8M302.5 123.5V127.0M303.5 119.8V126.4M304.5 123.1V127.3M305.5 123.0V126.2M306.5 122.4V126.1M307.5 122.8V126.1M308.5 122.8V126.0M309.5 122.9V127.5M310.5 122.9V125.8M311.5 122.9V127.0M312.5 124.4V126.6M313.5 123.8V126.5M314.5 123.5V125.9M315.5 123.9V125.7M316.5 123.0V125.8M317.5 123.9V125.8M318.5 123.7V127.0M319.5 123.7V126.0M320.5 122.5V126.6M321.5 122.6V126.8M322.5 121.9V127.7M323.5 122.6V126.5M324.5 122.7V127.6M325.5 119.4V129.3M326.5 119.0V129.2M327.5 118.9V130.9M328.5 114.3V129.1M329.5 120.6V127.8M330.5 119.6V129.2M331.5 120.8V129.2M332.5 119.7V127.1M333.5 122.3V127.7M334.5 124.5V126.3M335.5 124.3V126.6M336.5 124.2V126.2M337.5 121.1V127.2M338.5 124.2V127.1M339.5 124.1V126.8M340.5 121.4V126.2M341.5 122.8V126.2M342.5 123.0V127.0M343.5 123.1V126.7M344.5 123.6V126.8M345.5 122.9V128.0M346.5 123.6V128.7M347.5 123.5V126.6M348.5 121.0V126.2M349.5 121.0V128.5M350.5 117.1V129.1M351.5 123.7V128.4M352.5 120.4V128.4M353.5 123.1V126.8M354.5 122.6V126.3M355.5 122.2V126.2M356.5 118.4V128.5M357.5 121.3V126.4M358.5 123.1V126.2M359.5 120.8V128.5M360.5 123.3V127.9M361.5 122.9V126.8M362.5 123.6V127.9M363.5 120.8V127.7M364.5 122.7V128.5M365.5 117.4V129.1M366.5 123.0V126.8M367.5 123.8V128.0M368.5 120.4V129.0M369.5 117.9V126.7M370.5 123.0V127.3M371.5 122.9V130.4M372.5 123.3V130.1M373.5 123.4V126.5M374.5 121.3V128.6M375.5 120.1V127.0M376.5 120.2V127.7M377.5 122.2V126.3M378.5 120.7V128.0M379.5 122.3V128.7M380.5 123.8V128.7M381.5 122.7V130.8M382.5 123.4V126.4M383.5 120.4V130.0M384.5 120.9V127.2M385.5 121.8V127.1M386.5 123.7V126.9M387.5 122.0V127.0M388.5 122.9V127.3M389.5 124.1V127.8M390.5 123.9V128.0M391.5 121.8V126.5M392.5 123.6V127.1M393.5 122.2V126.8M394.5 122.2V126.8M395.5 120.1V128.0M396.5 119.6V128.2M397.5 124.1V126.5M398.5 123.4V127.1M399.5 123.4V126.6M400.5 122.5V131.3M401.5 123.7V128.0M402.5 123.7V127.5M403.5 122.9V126.4M404.5 122.5V126.5M405.5 123.8V127.5M406.5 124.1V128.7M407.5 121.7V126.7M408.5 122.1V127.7M409.5 123.3V126.3M410.5 123.1V127.0M411.5 122.0V127.0M412.5 120.5V129.5M413.5 122.7V128.6M414.5 119.7V130.4M415.5 118.0V127.3M416.5 119.7V131.3M417.5 119.8V134.5M418.5 118.8V130.9M419.5 112.9V136.6M420.5 117.2V132.8M421.5 118.5V141.3M422.5 114.8V139.6M423.5 121.0V134.5M424.5 118.1V135.1M425.5 116.2V131.9M426.5 114.8V132.0M427.5 116.3V128.4M428.5 122.1V129.2M429.5 116.8V127.5M430.5 118.4V130.3M431.5 121.8V136.8M432.5 115.1V132.3M433.5 118.9V130.0M434.5 123.2V128.8M435.5 122.7V128.1M436.5 121.0V126.9M437.5 121.1V130.4M438.5 120.3V127.2M439.5 120.3V133.4M440.5 123.6V129.0M441.5 121.1V129.3M442.5 119.1V130.0M443.5 120.9V128.3M444.5 118.3V127.2M445.5 118.0V132.3M446.5 120.7V128.9M447.5 121.1V128.1M448.5 120.4V127.2M449.5 118.1V130.1M450.5 122.1V128.3M451.5 113.9V128.5M452.5 122.7V138.6M453.5 123.1V130.1M454.5 118.7V129.4M455.5 119.0V135.6M456.5 121.3V131.8M457.5 122.7V131.2M458.5 117.5V127.5M459.5 118.6V127.4M460.5 120.7V130.3M461.5 121.1V129.9M462.5 122.8V132.4M463.5 122.1V126.3M464.5 122.3V128.9M465.5 120.6V127.2M466.5 124.2V128.0M467.5 122.2V126.7M468.5 123.4V127.1M469.5 124.4V126.3M470.5 123.0V127.4M471.5 124.2V127.3M472.5 123.4V126.1M473.5 124.2V127.4M474.5 123.1V127.1M475.5 123.9V125.8M476.5 124.0V127.2M477.5 123.2V126.2M478.5 123.7V125.9M479.5 124.1V126.9M480.5 123.4V126.6M481.5 124.3V126.8M482.5 120.7V125.8M483.5 123.9V125.9M484.5 119.2V126.2M485.5 119.3V126.6M486.5 123.8V125.5M487.5 124.0V126.1M488.5 124.1V125.9M489.5 124.0V125.7M490.5 124.7V126.5M491.5 123.9V125.8M492.5 124.2V125.5M493.5 120.8V125.9M494.5 124.5V125.9M495.5 124.0V125.6M496.5 124.7V126.4M497.5 124.0V125.8M498.5 124.0V126.0M499.5 124.0V125.7M500.5 118.3V126.0M501.5 124.5V126.2M502.5 124.1V125.7M503.5 122.0V125.5M504.5 124.4V125.8M505.5 122.6V125.9M506.5 124.4V125.7M507.5 124.7V125.5M508.5 124.4V126.3M509.5 124.2V125.8M510.5 124.4V125.7M511.5 124.5V125.8M512.5 124.6V125.6M513.5 124.3V125.5M514.5 124.7V126.0M515.5 124.8V125.9M516.5 121.0V125.9M517.5 124.7V126.2M518.5 124.5V125.5M519.5 124.2V125.5M520.5 124.1V126.1M521.5 124.3V126.0M522.5 124.5V125.4M523.5 124.3V126.0M524.5 124.3V125.9M525.5 124.3V126.1M526.5 123.6V125.8M527.5 124.4V125.6" stroke="#28e028" stroke-width="1.2" fill="none"/>
<path d="M59.5 124.8V125.6M60.5 125.0V125.3M61.5 124.8V125.6M62.5 124.7V125.5M63.5 125.0V125.6M64.5 124.7V125.4M65.5 124.5V125.7M66.5 124.5V125.5M67.5 124.6V125.9M68.5 124.3V125.8M69.5 124.8V125.9M70.5 124.6V125.4M71.5 124.8V125.4M72.5 124.8V127.7M73.5 124.6V128.5M74.5 124.3V129.2M75.5 124.3V128.5M76.5 124.5V126.4M77.5 124.7V126.0M78.5 124.3V126.1M79.5 124.4V126.9M80.5 123.8V127.0M81.5 124.3V126.4M82.5 124.5V126.6M83.5 123.6V127.3M84.5 123.4V126.4M85.5 124.2V127.3M86.5 124.3V143.0M87.5 124.4V127.4M88.5 124.1V141.0M89.5 124.5V126.6M90.5 124.4V126.2M91.5 123.8V126.6M92.5 123.3V142.0M93.5 124.3V127.2M94.5 123.5V127.5M95.5 123.7V126.8M96.5 123.9V127.2M97.5 123.4V126.5M98.5 123.6V126.7M99.5 123.5V127.2M100.5 115.8V137.0M101.5 121.2V135.9M102.5 123.5V126.9M103.5 124.2V136.2M104.5 123.1V141.3M105.5 103.5V126.0M106.5 119.3V137.7M107.5 123.4V127.8M108.5 124.1V134.6M109.5 123.7V137.5M110.5 124.1V143.7M111.5 122.2V147.9M112.5 122.3V128.8M113.5 122.2V134.5M114.5 123.3V126.4M115.5 121.7V128.8M116.5 121.9V140.9M117.5 122.0V138.5M118.5 122.4V135.9M119.5 122.2V128.3M120.5 122.7V128.3M121.5 123.4V129.1M122.5 124.1V126.5M123.5 123.3V127.8M124.5 117.7V129.1M125.5 123.0V128.7M126.5 123.3V140.3M127.5 89.8V127.6M128.5 122.4V127.8M129.5 123.8V127.4M130.5 124.1V129.4M131.5 123.3V126.8M132.5 121.8V128.6M133.5 110.4V127.6M134.5 120.7V128.9M135.5 121.2V128.3M136.5 121.6V129.2M137.5 122.8V127.9M138.5 121.1V128.4M139.5 123.9V126.9M140.5 109.8V128.0M141.5 121.6V126.8M142.5 120.9V129.4M143.5 121.3V129.6M144.5 123.8V128.9M145.5 122.4V129.4M146.5 123.1V127.5M147.5 122.8V128.2M148.5 122.1V127.0M149.5 109.4V129.7M150.5 123.2V127.3M151.5 122.8V128.9M152.5 123.6V127.5M153.5 77.8V130.1M154.5 121.2V128.5M155.5 123.0V128.4M156.5 123.8V128.4M157.5 123.3V127.7M158.5 103.0V134.3M159.5 119.8V127.0M160.5 123.7V139.5M161.5 119.7V129.0M162.5 122.2V142.0M163.5 122.5V128.4M164.5 111.6V127.6M165.5 119.9V126.6M166.5 123.6V127.1M167.5 112.2V127.4M168.5 123.7V145.0M169.5 120.0V132.7M170.5 122.0V128.6M171.5 120.7V126.6M172.5 123.7V128.1M173.5 119.5V130.0M174.5 123.1V128.8M175.5 121.9V127.7M176.5 122.1V130.1M177.5 119.7V143.5M178.5 122.9V129.1M179.5 119.4V128.2M180.5 118.5V131.4M181.5 119.1V129.4M182.5 117.0V127.7M183.5 119.1V145.2M184.5 119.8V127.9M185.5 122.7V127.6M186.5 117.5V129.7M187.5 118.1V128.3M188.5 116.5V127.2M189.5 69.4V190.0M190.5 120.6V131.3M191.5 118.4V128.3M192.5 121.7V132.9M193.5 121.2V131.6M194.5 118.8V132.9M195.5 120.4V128.6M196.5 119.9V133.6M197.5 117.3V131.4M198.5 73.0V174.0M199.5 117.2V132.2M200.5 122.2V128.3M201.5 121.7V131.5M202.5 118.3V130.2M203.5 120.9V129.8M204.5 121.4V130.9M205.5 120.0V127.6M206.5 116.9V128.8M207.5 120.5V131.8M208.5 118.5V131.1M209.5 120.3V131.4M210.5 118.8V132.0M211.5 122.9V129.4M212.5 119.6V129.1M213.5 117.2V128.2M214.5 118.0V131.8M215.5 122.5V128.8M216.5 120.4V129.1M217.5 122.6V130.6M218.5 123.1V129.6M219.5 82.0V170.0M220.5 122.2V130.0M221.5 123.6V129.1M222.5 121.3V136.8M223.5 121.0V133.9M224.5 123.0V128.1M225.5 121.8V129.3M226.5 121.3V128.7M227.5 122.7V129.7M228.5 116.6V128.6M229.5 75.3V127.5M230.5 118.2V178.0M231.5 120.8V127.4M232.5 114.4V128.9M233.5 121.5V135.9M234.5 119.5V136.6M235.5 112.1V128.7M236.5 115.5V130.1M237.5 109.7V134.3M238.5 121.1V144.7M239.5 110.4V138.9M240.5 111.2V149.4M241.5 91.6V154.1M242.5 77.5V134.5M243.5 94.9V152.2M244.5 110.8V137.6M245.5 116.1V129.5M246.5 89.7V131.0M247.5 120.1V130.9M248.5 108.2V129.8M249.5 110.2V140.5M250.5 120.3V154.9M251.5 120.8V132.5M252.5 70.0V135.2M253.5 117.1V130.8M254.5 114.4V139.6M255.5 114.6V136.3M256.5 114.4V133.7M257.5 110.0V138.1M258.5 97.1V139.3M259.5 119.7V140.0M260.5 109.8V137.5M261.5 101.6V131.3M262.5 116.9V139.1M263.5 120.8V154.7M264.5 116.8V134.2M265.5 111.8V134.4M266.5 119.5V134.1M267.5 115.7V138.1M268.5 116.7V152.4M269.5 116.0V129.2M270.5 116.0V131.8M271.5 115.5V131.2M272.5 118.4V132.6M273.5 109.4V133.7M274.5 113.1V132.1M275.5 121.9V129.9M276.5 121.3V128.2M277.5 122.4V128.7M278.5 123.6V126.7M279.5 124.1V126.0M280.5 122.6V126.6M281.5 123.8V127.2M282.5 122.6V126.3M283.5 123.0V127.1M284.5 123.9V126.4M285.5 123.7V125.8M286.5 122.8V127.2M287.5 123.8V125.8M288.5 122.6V126.7M289.5 123.1V126.4M290.5 123.0V127.6M291.5 123.1V126.4M292.5 123.1V125.9M293.5 124.3V126.1M294.5 123.1V126.5M295.5 124.3V126.1M296.5 124.3V126.6M297.5 124.0V126.6M298.5 123.3V127.2M299.5 122.4V126.4M300.5 124.0V126.9M301.5 123.0V126.1M302.5 123.6V127.0M303.5 122.4V127.1M304.5 122.1V127.2M305.5 123.7V126.8M306.5 123.1V126.3M307.5 123.3V127.0M308.5 122.6V127.5M309.5 124.3V125.9M310.5 123.9V125.8M311.5 122.4V126.7M312.5 123.8V126.8M313.5 123.2V127.2M314.5 122.8V126.0M315.5 122.4V126.6M316.5 122.2V126.3M317.5 123.0V126.6M318.5 122.3V127.2M319.5 122.7V127.1M320.5 122.9V126.4M321.5 122.4V127.5M322.5 122.4V127.8M323.5 123.5V128.2M324.5 121.7V127.5M325.5 123.5V128.6M326.5 122.9V130.2M327.5 119.6V129.5M328.5 119.4V130.3M329.5 119.5V128.1M330.5 120.1V128.4M331.5 123.5V131.0M332.5 123.3V127.0M333.5 123.1V127.0M334.5 123.8V125.7M335.5 122.9V126.3M336.5 123.1V126.8M337.5 122.7V125.9M338.5 122.9V126.5M339.5 123.9V126.0M340.5 123.6V126.3M341.5 123.7V126.5M342.5 122.8V126.8M343.5 123.4V127.1M344.5 124.0V127.1M345.5 122.4V126.7M346.5 124.0V126.6M347.5 122.7V127.6M348.5 123.2V126.8M349.5 122.0V127.0M350.5 120.3V128.7M351.5 122.0V128.9M352.5 120.8V127.6M353.5 122.3V128.3M354.5 121.4V126.3M355.5 121.6V128.1M356.5 120.1V127.6M357.5 122.8V127.3M358.5 122.8V128.9M359.5 121.2V128.0M360.5 121.5V128.0M361.5 122.8V128.0M362.5 123.7V126.4M363.5 122.2V126.2M364.5 121.7V127.4M365.5 121.0V129.2M366.5 123.4V126.2M367.5 120.5V126.3M368.5 121.8V126.3M369.5 122.3V128.0M370.5 120.9V126.1M371.5 123.6V128.3M372.5 120.3V126.8M373.5 121.6V128.1M374.5 122.0V129.0M375.5 122.3V128.8M376.5 123.4V127.9M377.5 120.9V127.9M378.5 120.6V127.8M379.5 120.3V128.0M380.5 120.5V126.6M381.5 122.9V129.2M382.5 121.4V127.1M383.5 121.3V129.9M384.5 123.8V127.7M385.5 123.5V127.8M386.5 123.0V126.8M387.5 122.5V128.2M388.5 121.8V128.2M389.5 121.8V127.9M390.5 121.9V127.3M391.5 122.5V129.0M392.5 122.7V128.6M393.5 122.4V128.6M394.5 122.1V127.4M395.5 123.3V128.6M396.5 123.8V128.9M397.5 124.1V126.2M398.5 122.6V126.4M399.5 122.5V128.1M400.5 123.9V127.9M401.5 120.9V127.9M402.5 123.6V127.7M403.5 122.0V128.7M404.5 121.8V126.8M405.5 123.3V126.9M406.5 121.0V127.1M407.5 122.5V128.4M408.5 122.1V127.3M409.5 122.0V126.8M410.5 122.7V127.3M411.5 121.5V127.3M412.5 121.0V127.1M413.5 123.2V128.1M414.5 120.7V131.6M415.5 116.1V129.8M416.5 121.4V129.0M417.5 119.2V134.0M418.5 120.5V131.2M419.5 112.0V131.9M420.5 112.6V134.2M421.5 118.1V130.3M422.5 121.4V129.6M423.5 121.2V129.2M424.5 121.0V131.6M425.5 120.4V133.3M426.5 119.5V130.9M427.5 118.5V132.3M428.5 116.6V128.6M429.5 119.1V129.2M430.5 119.2V129.8M431.5 121.8V130.1M432.5 120.5V129.5M433.5 122.6V130.8M434.5 118.7V129.9M435.5 118.7V126.8M436.5 120.2V129.3M437.5 122.5V130.2M438.5 120.7V128.3M439.5 120.2V126.7M440.5 121.0V128.7M441.5 122.5V129.0M442.5 122.0V127.7M443.5 122.0V126.9M444.5 121.0V130.3M445.5 120.4V127.5M446.5 117.6V144.3M447.5 119.0V129.6M448.5 120.1V127.6M449.5 122.2V129.0M450.5 119.9V131.3M451.5 121.3V131.1M452.5 117.3V128.1M453.5 120.3V128.7M454.5 122.2V129.9M455.5 119.0V133.1M456.5 119.3V127.2M457.5 119.5V131.1M458.5 122.1V128.5M459.5 118.4V128.5M460.5 119.2V130.2M461.5 123.4V128.6M462.5 120.7V126.5M463.5 123.5V128.0M464.5 122.4V128.8M465.5 124.1V127.6M466.5 122.5V126.3M467.5 123.6V126.4M468.5 123.9V126.7M469.5 124.0V126.1M470.5 124.5V125.8M471.5 124.4V126.5M472.5 124.5V126.7M473.5 123.2V127.0M474.5 124.0V127.1M475.5 124.2V126.9M476.5 124.3V126.8M477.5 123.5V126.7M478.5 124.7V126.9M479.5 123.8V126.8M480.5 122.5V129.0M481.5 123.9V126.1M482.5 123.8V125.9M483.5 120.8V125.6M484.5 121.8V125.6M485.5 121.7V126.2M486.5 122.7V125.6M487.5 124.1V125.5M488.5 124.5V125.8M489.5 124.3V127.9M490.5 123.8V126.4M491.5 124.1V126.5M492.5 124.4V126.4M493.5 123.9V125.5M494.5 124.0V126.2M495.5 124.8V126.2M496.5 124.6V126.3M497.5 123.9V127.2M498.5 124.0V125.5M499.5 124.1V125.8M500.5 124.0V126.1M501.5 124.4V126.4M502.5 124.5V127.5M503.5 123.3V125.9M504.5 124.2V126.0M505.5 124.8V126.1M506.5 124.3V126.1M507.5 124.4V126.3M508.5 124.1V125.9M509.5 124.2V125.9M510.5 124.3V125.6M511.5 124.3V125.6M512.5 124.3V125.9M513.5 124.8V125.8M514.5 124.6V125.7M515.5 124.6V126.3M516.5 124.6V125.7M517.5 124.8V125.7M518.5 124.4V126.0M519.5 124.6V126.0M520.5 124.1V125.6M521.5 124.7V127.1M522.5 124.4V125.4M523.5 124.6V126.1M524.5 124.7V125.9M525.5 124.9V125.4M526.5 124.2V126.0M527.5 124.2V125.8" stroke="#ffc030" stroke-width="1.2" fill="none"/>
<path d="M59.5 124.8V125.6M60.5 124.6V125.5M61.5 124.7V125.6M62.5 124.5V125.6M63.5 124.5V125.6M64.5 124.6V125.7M65.5 124.6V125.9M66.5 124.5V125.6M67.5 124.5V125.7M68.5 124.4V125.7M69.5 115.0V125.8M70.5 124.5V126.0M71.5 124.5V126.3M72.5 124.0V126.4M73.5 123.9V126.2M74.5 124.0V126.3M75.5 124.0V126.7M76.5 124.2V126.5M77.5 123.8V126.8M78.5 124.2V126.8M79.5 124.2V126.5M80.5 58.4V128.2M81.5 114.4V127.5M82.5 123.3V132.5M83.5 123.2V127.8M84.5 116.4V127.4M85.5 123.8V126.9M86.5 123.6V127.9M87.5 31.3V127.5M88.5 114.6V127.5M89.5 122.9V128.1M90.5 123.0V131.7M91.5 95.0V127.3M92.5 122.9V128.0M93.5 95.0V126.8M94.5 122.6V126.8M95.5 123.1V133.5M96.5 123.4V127.4M97.5 123.6V126.9M98.5 122.5V128.0M99.5 122.8V127.3M100.5 120.8V127.3M101.5 122.8V128.1M102.5 116.3V127.9M103.5 123.3V127.9M104.5 123.0V128.4M105.5 108.5V129.0M106.5 109.7V128.9M107.5 122.4V127.8M108.5 121.6V128.8M109.5 121.2V129.5M110.5 121.9V137.5M111.5 117.2V135.1M112.5 122.1V128.4M113.5 122.6V129.1M114.5 121.4V128.9M115.5 70.5V128.4M116.5 122.6V135.0M117.5 121.6V129.5M118.5 122.4V129.5M119.5 120.7V128.6M120.5 120.9V134.3M121.5 122.7V128.4M122.5 122.4V128.1M123.5 120.7V128.8M124.5 120.7V128.6M125.5 120.9V129.2M126.5 122.3V129.7M127.5 120.2V129.2M128.5 122.3V129.9M129.5 121.4V130.3M130.5 120.4V128.2M131.5 120.6V128.6M132.5 122.1V128.9M133.5 101.8V129.6M134.5 120.6V129.6M135.5 122.0V130.1M136.5 121.9V130.7M137.5 122.0V130.8M138.5 122.0V130.4M139.5 119.3V130.8M140.5 121.9V129.1M141.5 119.3V129.8M142.5 121.0V129.4M143.5 120.0V129.9M144.5 120.6V128.8M145.5 121.5V130.4M146.5 121.2V128.3M147.5 119.2V131.3M148.5 119.3V131.4M149.5 119.8V128.6M150.5 119.9V130.8M151.5 121.8V131.5M152.5 119.6V129.0M153.5 80.0V145.0M154.5 118.8V128.8M155.5 117.2V136.6M156.5 120.5V129.8M157.5 121.9V129.4M158.5 108.6V140.8M159.5 120.4V131.0M160.5 119.2V131.0M161.5 105.6V137.9M162.5 120.5V131.2M163.5 118.3V130.9M164.5 120.4V131.8M165.5 120.7V129.9M166.5 119.6V128.6M167.5 120.8V131.1M168.5 119.7V131.5M169.5 119.4V128.9M170.5 121.1V131.1M171.5 120.2V130.0M172.5 118.3V130.7M173.5 119.3V152.0M174.5 120.5V130.0M175.5 112.7V133.6M176.5 118.5V131.7M177.5 120.2V130.1M178.5 117.5V131.3M179.5 117.5V130.8M180.5 113.6V134.3M181.5 117.3V131.6M182.5 118.6V129.9M183.5 114.8V132.0M184.5 116.1V133.1M185.5 114.4V133.9M186.5 116.6V134.5M187.5 116.7V133.6M188.5 115.4V135.2M189.5 72.0V187.0M190.5 115.8V133.8M191.5 116.5V133.5M192.5 115.9V135.0M193.5 114.3V134.0M194.5 114.5V134.7M195.5 115.2V134.6M196.5 114.8V133.9M197.5 105.0V139.6M198.5 78.5V172.0M199.5 115.3V135.4M200.5 115.7V135.3M201.5 115.6V133.2M202.5 116.4V133.4M203.5 116.4V134.7M204.5 116.0V135.3M205.5 85.0V133.9M206.5 115.6V134.0M207.5 115.0V134.0M208.5 114.2V135.6M209.5 73.6V183.4M210.5 116.1V135.2M211.5 115.3V134.5M212.5 114.7V133.8M213.5 113.0V140.3M214.5 116.3V134.5M215.5 116.5V135.4M216.5 114.8V133.8M217.5 115.3V134.1M218.5 114.9V129.9M219.5 118.2V167.5M220.5 112.0V135.5M221.5 119.9V131.7M222.5 115.3V134.0M223.5 121.7V131.1M224.5 111.3V136.2M225.5 120.6V131.1M226.5 120.5V130.5M227.5 119.6V129.5M228.5 119.8V129.5M229.5 77.0V132.3M230.5 106.2V176.0M231.5 106.6V137.4M232.5 110.9V137.6M233.5 111.4V168.0M234.5 111.7V140.1M235.5 108.7V137.2M236.5 108.6V138.9M237.5 109.6V139.3M238.5 107.1V141.3M239.5 109.6V138.7M240.5 105.6V140.4M241.5 108.3V142.6M242.5 108.1V142.7M243.5 108.0V140.0M244.5 107.4V142.7M245.5 53.8V140.0M246.5 108.1V142.5M247.5 106.9V139.8M248.5 66.0V145.3M249.5 102.7V145.7M250.5 107.5V143.3M251.5 108.2V141.0M252.5 106.1V144.4M253.5 104.8V140.8M254.5 106.0V241.0M255.5 103.7V140.8M256.5 105.9V143.8M257.5 103.9V143.5M258.5 108.8V141.7M259.5 104.6V140.7M260.5 104.0V143.1M261.5 105.8V142.6M262.5 104.7V140.3M263.5 106.8V140.8M264.5 105.1V142.6M265.5 106.8V142.1M266.5 108.8V140.9M267.5 106.1V138.0M268.5 107.3V139.9M269.5 105.6V140.5M270.5 74.0V164.3M271.5 111.1V138.1M272.5 110.7V135.3M273.5 113.6V135.2M274.5 116.2V133.4M275.5 117.9V130.9M276.5 107.3V138.4M277.5 121.1V129.5M278.5 107.6V136.6M279.5 110.2V140.5M280.5 121.3V127.3M281.5 122.9V128.6M282.5 121.3V128.4M283.5 123.0V126.9M284.5 121.8V153.0M285.5 116.2V135.9M286.5 121.8V127.6M287.5 122.6V126.8M288.5 116.8V135.9M289.5 121.5V127.6M290.5 114.0V135.0M291.5 90.0V127.7M292.5 107.0V138.6M293.5 90.0V128.2M294.5 116.2V135.7M295.5 122.8V127.1M296.5 122.6V127.4M297.5 122.4V127.7M298.5 117.9V133.5M299.5 123.2V126.6M300.5 105.0V143.7M301.5 116.9V132.7M302.5 110.9V133.6M303.5 123.1V128.1M304.5 105.0V143.7M305.5 123.0V127.2M306.5 123.3V126.6M307.5 96.5V152.0M308.5 118.0V133.2M309.5 113.3V130.8M310.5 123.0V126.6M311.5 113.7V133.7M312.5 102.0V146.5M313.5 122.6V128.0M314.5 117.7V133.0M315.5 123.1V126.8M316.5 105.0V138.6M317.5 122.8V128.0M318.5 123.3V127.3M319.5 113.8V132.8M320.5 122.6V126.8M321.5 118.9V132.0M322.5 122.1V128.1M323.5 117.9V130.9M324.5 96.0V152.0M325.5 118.5V155.0M326.5 111.0V137.4M327.5 119.1V131.6M328.5 120.7V137.3M329.5 87.0V169.7M330.5 118.9V129.4M331.5 117.5V134.3M332.5 115.3V135.3M333.5 119.3V127.7M334.5 123.5V127.0M335.5 123.4V126.5M336.5 123.2V127.0M337.5 122.0V126.7M338.5 123.6V126.8M339.5 116.5V126.5M340.5 114.1V126.5M341.5 123.6V126.5M342.5 122.5V127.0M343.5 123.6V132.8M344.5 123.6V134.6M345.5 123.4V127.3M346.5 122.2V127.7M347.5 121.1V127.9M348.5 119.9V129.6M349.5 120.4V129.3M350.5 119.3V129.7M351.5 118.9V128.7M352.5 121.5V128.7M353.5 119.1V129.3M354.5 108.6V130.0M355.5 119.3V129.2M356.5 119.2V128.6M357.5 121.7V129.1M358.5 121.2V128.8M359.5 119.3V129.5M360.5 121.7V130.1M361.5 121.1V129.3M362.5 119.0V127.9M363.5 119.8V127.7M364.5 120.4V128.3M365.5 120.2V127.7M366.5 120.5V128.7M367.5 119.8V128.2M368.5 120.9V130.0M369.5 120.0V127.8M370.5 120.3V129.0M371.5 111.8V138.0M372.5 122.1V127.9M373.5 119.5V129.7M374.5 119.4V129.7M375.5 119.0V129.5M376.5 121.9V128.8M377.5 120.8V127.9M378.5 121.6V128.3M379.5 121.3V127.7M380.5 122.1V129.2M381.5 119.7V130.4M382.5 121.6V130.3M383.5 97.6V155.0M384.5 120.5V130.8M385.5 119.3V130.7M386.5 121.8V127.9M387.5 121.9V129.4M388.5 111.8V139.0M389.5 116.1V128.5M390.5 120.0V128.6M391.5 122.4V129.5M392.5 122.3V128.7M393.5 122.5V129.0M394.5 120.5V129.4M395.5 106.5V129.6M396.5 113.0V127.5M397.5 121.8V128.6M398.5 120.1V128.6M399.5 60.7V236.0M400.5 122.4V127.5M401.5 121.4V128.7M402.5 113.0V142.0M403.5 120.8V128.2M404.5 121.5V128.0M405.5 120.0V128.6M406.5 115.0V135.3M407.5 121.0V128.7M408.5 120.3V128.7M409.5 121.0V132.9M410.5 120.9V129.3M411.5 121.1V128.7M412.5 122.2V134.9M413.5 119.3V131.4M414.5 106.6V131.6M415.5 115.7V134.4M416.5 114.7V133.7M417.5 106.8V137.5M418.5 112.7V138.3M419.5 109.6V136.9M420.5 111.1V152.8M421.5 109.7V202.5M422.5 111.0V137.1M423.5 110.5V137.2M424.5 110.7V136.5M425.5 111.3V137.9M426.5 113.5V194.5M427.5 112.7V136.7M428.5 103.6V137.0M429.5 113.8V135.6M430.5 115.6V133.6M431.5 115.6V133.0M432.5 115.4V132.6M433.5 57.0V132.9M434.5 119.8V129.4M435.5 120.5V131.7M436.5 118.2V131.3M437.5 118.3V129.6M438.5 120.8V129.4M439.5 120.6V137.1M440.5 111.2V130.4M441.5 120.7V131.1M442.5 119.0V129.1M443.5 120.8V135.0M444.5 105.5V133.4M445.5 117.0V132.1M446.5 113.1V139.1M447.5 117.3V134.7M448.5 119.7V141.2M449.5 117.1V130.7M450.5 119.7V131.4M451.5 117.2V133.6M452.5 112.4V133.6M453.5 115.6V135.0M454.5 119.8V134.1M455.5 110.1V133.8M456.5 105.0V133.6M457.5 109.3V132.9M458.5 116.6V134.7M459.5 110.2V132.9M460.5 120.4V129.3M461.5 118.6V129.7M462.5 122.2V129.8M463.5 120.8V127.8M464.5 122.5V129.0M465.5 122.5V128.9M466.5 121.8V127.4M467.5 121.8V127.8M468.5 122.1V127.0M469.5 122.1V127.9M470.5 123.1V127.3M471.5 120.4V127.0M472.5 123.0V127.9M473.5 122.8V126.5M474.5 123.6V127.0M475.5 123.5V126.5M476.5 123.8V127.6M477.5 123.2V126.8M478.5 123.0V127.2M479.5 123.8V126.7M480.5 123.6V126.8M481.5 124.0V126.2M482.5 123.8V126.6M483.5 123.9V126.6M484.5 124.2V126.6M485.5 123.7V126.3M486.5 124.0V126.8M487.5 124.0V126.9M488.5 124.1V126.6M489.5 123.9V126.0M490.5 124.2V126.1M491.5 123.5V126.8M492.5 123.7V126.4M493.5 124.1V126.2M494.5 123.5V126.7M495.5 123.7V127.7M496.5 123.6V126.0M497.5 123.6V125.9M498.5 124.2V138.0M499.5 123.7V126.5M500.5 124.2V126.0M501.5 124.0V126.4M502.5 123.6V126.3M503.5 124.0V126.7M504.5 124.4V126.3M505.5 124.3V126.2M506.5 124.0V126.6M507.5 123.8V127.6M508.5 124.0V126.2M509.5 124.0V126.6M510.5 124.2V126.0M511.5 121.9V126.6M512.5 124.1V126.2M513.5 124.0V126.0M514.5 124.4V126.5M515.5 124.2V126.4M516.5 124.1V126.2M517.5 124.2V126.1M518.5 123.9V126.5M519.5 123.9V126.2M520.5 124.0V125.8M521.5 124.3V126.0M522.5 124.1V126.2M523.5 124.4V125.9M524.5 123.9V125.8M525.5 124.1V126.4M526.5 124.2V126.0M527.5 124.0V125.9" stroke="#ee82ee" stroke-width="1.2" fill="none"/><path d="M87.82 32.47H117.19V88.08H293.43V32.47H528.40M87.82 217.83H117.19V162.22H293.43V217.83H528.40" stroke="#a51c1c" stroke-width="1.5" fill="none"/><rect x="58.45" y="9.30" width="469.95" height="231.70" stroke="#999" stroke-width="1" fill="none"/><g class="t"><text x="59.95" y="258.8" text-anchor="middle">0</text><text x="118.69" y="258.8" text-anchor="middle">200</text><text x="177.44" y="258.8" text-anchor="middle">400</text><text x="236.18" y="258.8" text-anchor="middle">600</text><text x="294.93" y="258.8" text-anchor="middle">800</text><text x="353.67" y="258.8" text-anchor="middle">1000</text><text x="412.41" y="258.8" text-anchor="middle">1200</text><text x="471.16" y="258.8" text-anchor="middle">1400</text><text x="529.90" y="258.8" text-anchor="middle">1600</text><text x="52.6" y="222.83" text-anchor="end">-100</text><text x="52.6" y="176.49" text-anchor="end">-50</text><text x="52.6" y="130.15" text-anchor="end">0</text><text x="52.6" y="83.81" text-anchor="end">50</text><text x="52.6" y="37.47" text-anchor="end">100</text></g><text class="t" x="293.5" y="277.6" text-anchor="middle">Frequency (cm<tspan dy="-4.7" font-size="8.5">-1</tspan><tspan dy="4.7">)</tspan></text><text class="t" transform="translate(20.1 125.8) rotate(-90)" text-anchor="middle">Intensity (nW/(sr cm<tspan dy="-4.7" font-size="8.5">-1</tspan><tspan dy="4.7"> cm</tspan><tspan dy="-4.7" font-size="8.5">2</tspan><tspan dy="4.7">))</tspan></text><text class="t" style="font-size:11.2px" x="479.7" y="25.90" text-anchor="end">AFGL1</text><path d="M485.9 21.00H515.7" stroke="#777777" stroke-width="1.5"/><text class="t" style="font-size:11.2px" x="479.7" y="38.67" text-anchor="end">AFGL2</text><path d="M485.9 33.77H515.7" stroke="#2a20e8" stroke-width="1.5"/><text class="t" style="font-size:11.2px" x="479.7" y="51.44" text-anchor="end">AFGL3</text><path d="M485.9 46.54H515.7" stroke="#f03a3a" stroke-width="1.5"/><text class="t" style="font-size:11.2px" x="479.7" y="64.21" text-anchor="end">AFGL4</text><path d="M485.9 59.31H515.7" stroke="#30e030" stroke-width="1.5"/><text class="t" style="font-size:11.2px" x="479.7" y="76.98" text-anchor="end">AFGL5</text><path d="M485.9 72.08H515.7" stroke="#ffc040" stroke-width="1.5"/><text class="t" style="font-size:11.2px" x="479.7" y="89.75" text-anchor="end">AFGL6</text><path d="M485.9 84.85H515.7" stroke="#ee88ee" stroke-width="1.5"/><text class="t" style="font-size:11.2px" x="479.7" y="102.52" text-anchor="end">FORUM NESR</text><path d="M485.9 97.62H515.7" stroke="#a51c1c" stroke-width="1.5"/>
</svg></body></html>
